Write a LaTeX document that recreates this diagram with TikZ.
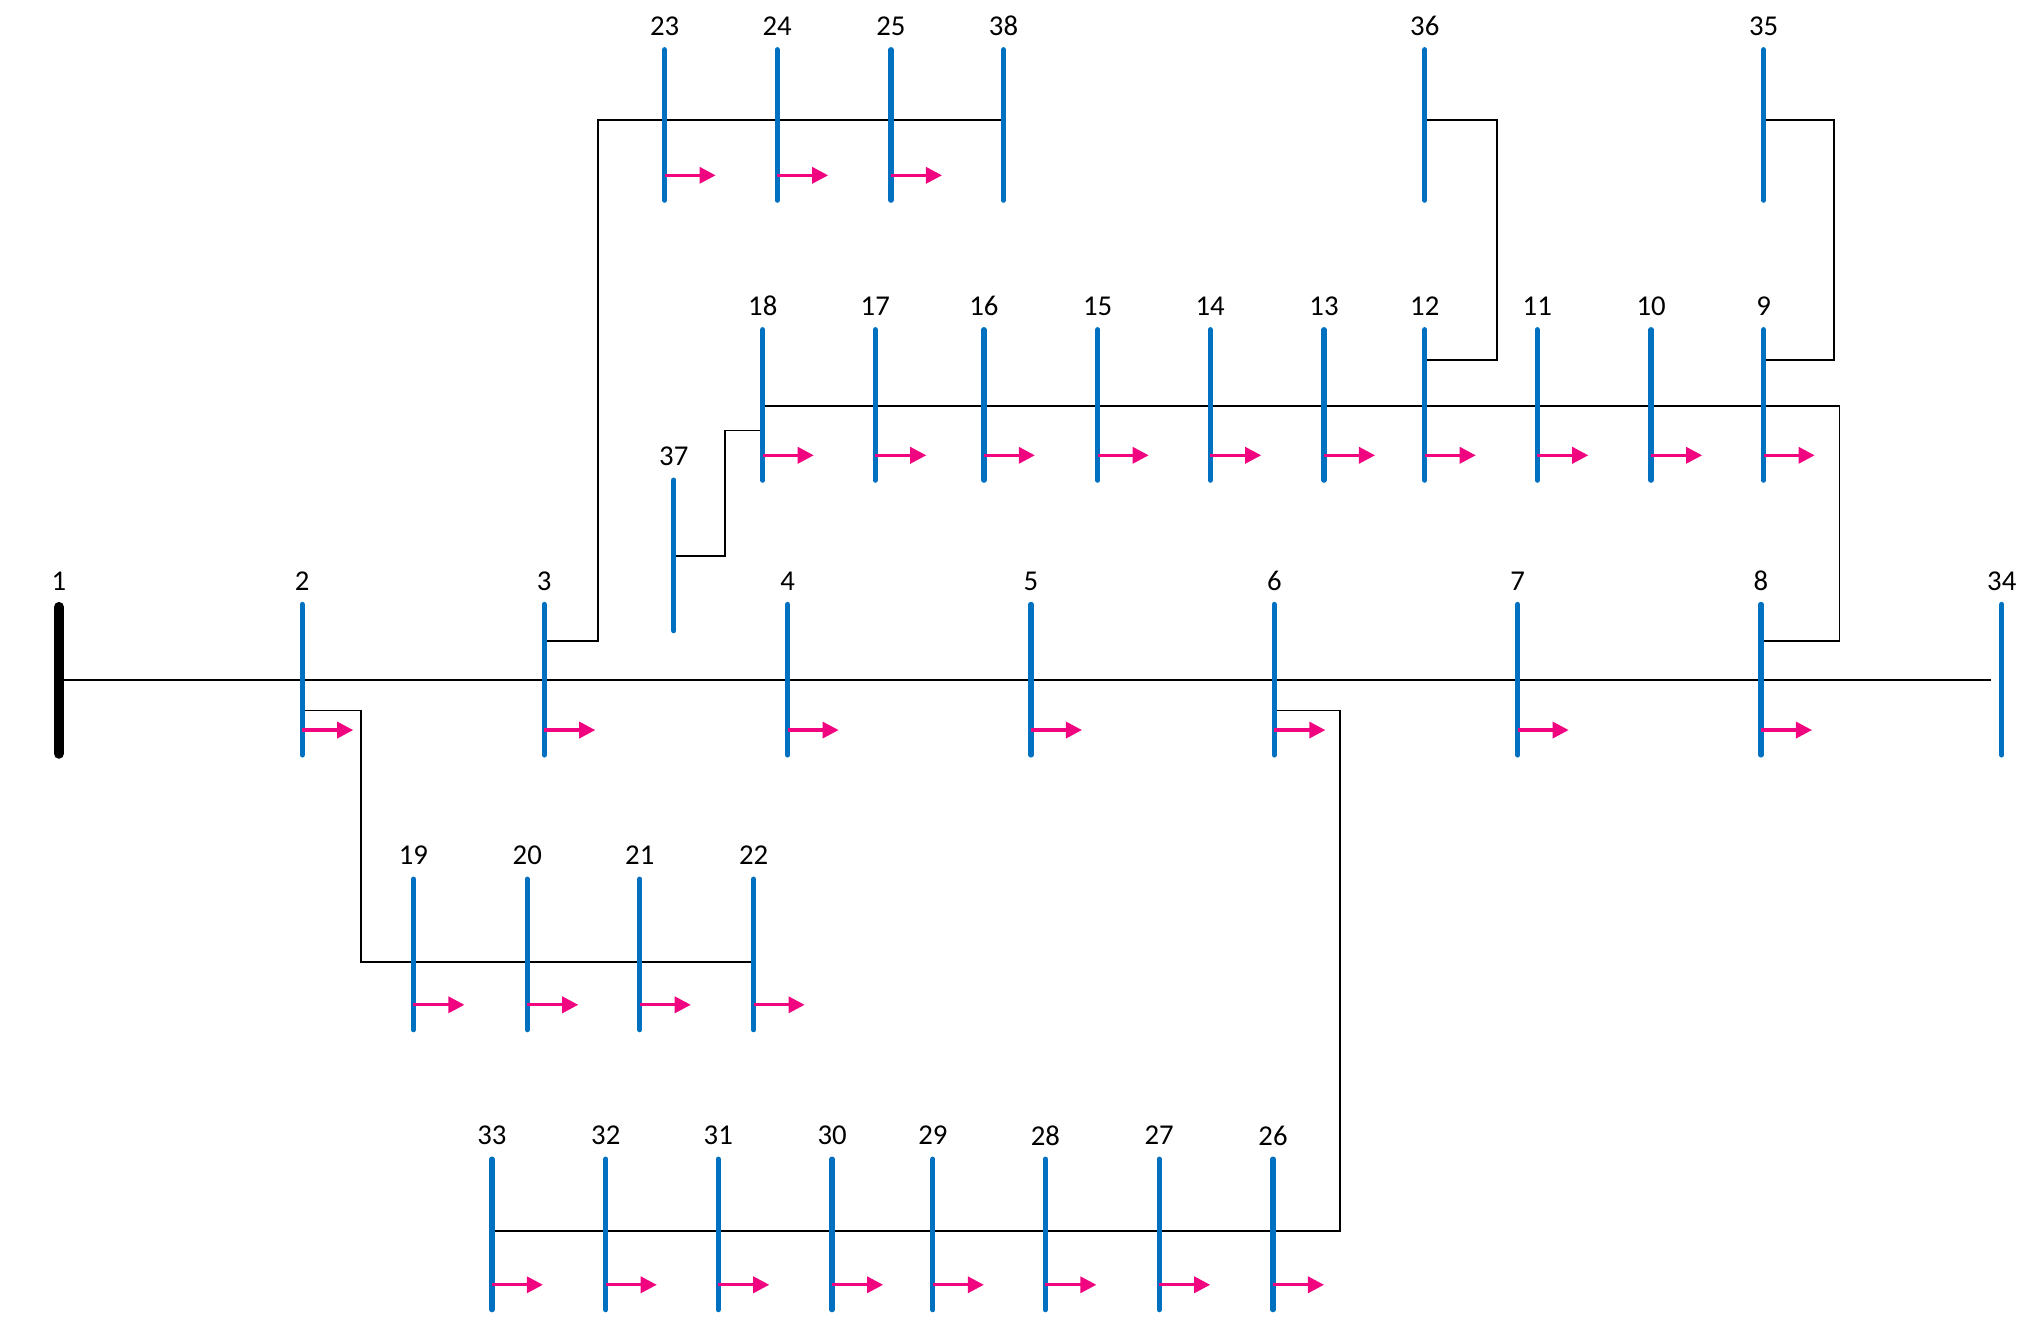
\documentclass[tikz,border=0pt]{standalone}
\usepackage{fontspec}
\setmainfont{Carlito}
\usetikzlibrary{arrows.meta}
\definecolor{busblue}{HTML}{0070C0}
\definecolor{loadpink}{HTML}{F0047F}
\tikzset{
  busbar/.style={draw=busblue,line width=2.3pt,line cap=round},
  feeder/.style={draw=black,line width=0.8pt},
  loadarrow/.style={draw=loadpink,line width=1.4pt,-{Triangle[length=7pt,width=7pt]}},
  buslabel/.style={font=\fontsize{12.5}{14}\selectfont,inner sep=0pt}
}
\begin{document}
\begin{tikzpicture}[x=0.02cm,y=-0.02cm]
\useasboundingbox (0,0) rectangle (1560,1015);
% feeders
\draw[feeder] (45,520) -- (1522,520);
\draw[feeder] (231,543) -- (276,543) -- (276,735) -- (577,735);
\draw[feeder] (974,543) -- (1024,543) -- (1024,941) -- (376,941);
\draw[feeder] (416,490) -- (457,490) -- (457,92) -- (767,92);
\draw[feeder] (1346,490) -- (1406,490) -- (1406,310) -- (583,310);
\draw[feeder] (515,425) -- (554,425) -- (554,329) -- (583,329);
\draw[feeder] (1089,92) -- (1144,92) -- (1144,275) -- (1089,275);
\draw[feeder] (1348,92) -- (1402,92) -- (1402,275) -- (1348,275);
% slack bus
\draw[line width=4.5pt,line cap=round] (45,464) -- (45,576);
\node[buslabel] (n1) at (45,444) {1};
% generic buses: x / top / label / load(1/0)
\foreach \n/\x/\t/\l in {2/231/462/1,3/416/462/1,4/602/462/1,5/788/462/1,6/974/462/1,7/1160/462/1,8/1346/462/1,34/1530/462/0,
  19/316/672/1,20/403/672/1,21/489/672/1,22/576/672/1,
  33/376/886/1,32/463/886/1,31/549/886/1,30/636/886/1,29/713/886/1,28/799/886/1,27/886/886/1,26/973/886/1,
  23/508/38/1,24/594/38/1,25/681/38/1,38/767/38/0,36/1089/38/0,35/1348/38/0,
  18/583/252/1,17/669/252/1,16/752/252/1,15/839/252/1,14/925/252/1,13/1012/252/1,12/1089/252/1,11/1175/252/1,10/1262/252/1,9/1348/252/1,
  37/515/367/0}{
  \draw[busbar] (\x,\t) -- (\x,\t+115);
  \node[buslabel] (n\n) at (\x,\t-18) {\n};
  \ifnum\l=1
    \draw[loadarrow] (\x,\t+96) -- (\x+39,\t+96);
  \fi
}
\end{tikzpicture}
\end{document}
